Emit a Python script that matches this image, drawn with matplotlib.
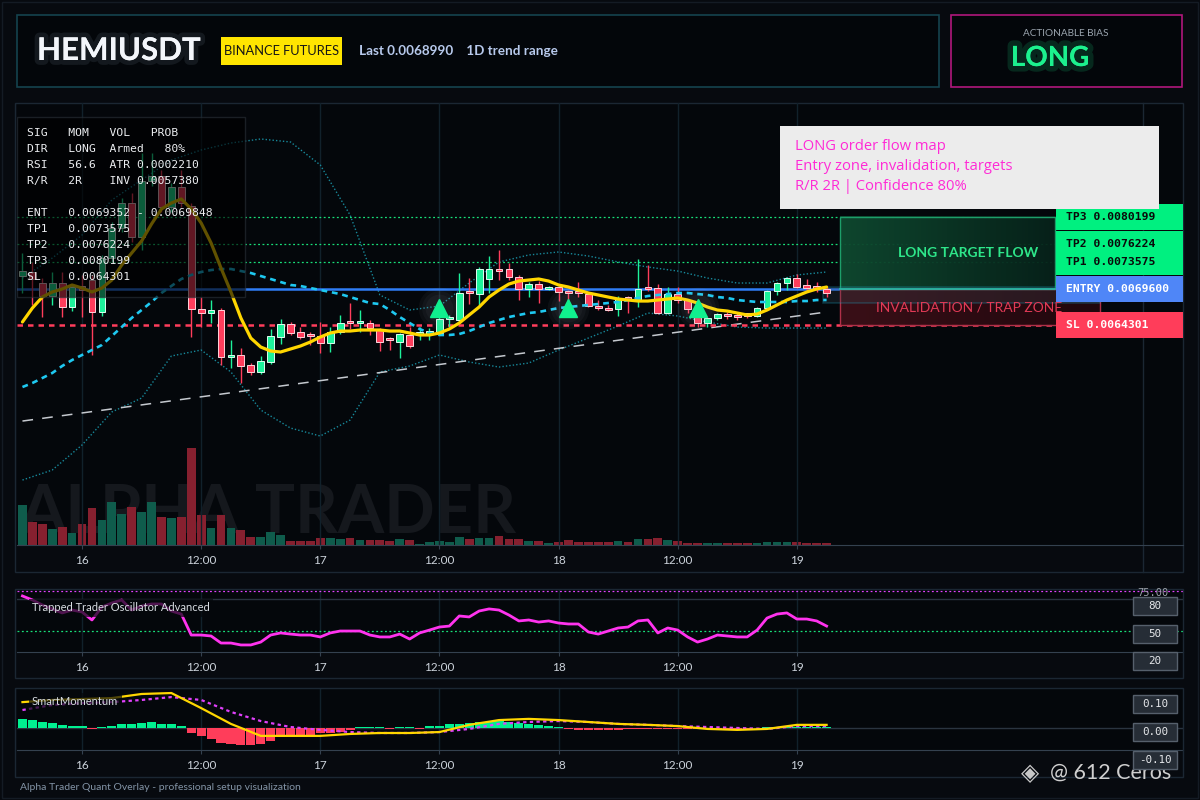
import numpy as np
import matplotlib
matplotlib.use("Agg")
import matplotlib.pyplot as plt
import matplotlib.patheffects as pe
from matplotlib.patches import Rectangle
from matplotlib.colors import LinearSegmentedColormap

plt.rcParams["font.family"] = ["Lato", "DejaVu Sans"]

W, H = 1200, 800

# ---------------- data ----------------
tick_pos = [6, 18, 30, 42, 54, 66, 78]
tick_labels = ["16", "12:00", "17", "12:00", "18", "12:00", "19"]

opens = [0.007151, 0.007210, 0.007048, 0.006857, 0.007048, 0.006695, 0.007004, 0.007092, 0.006622, 0.007415,
         0.007856, 0.008224, 0.007724, 0.008547, 0.008621, 0.008165, 0.008459, 0.008180, 0.006666, 0.006607,
         0.006651, 0.005960, 0.005990, 0.005842, 0.005740, 0.005887, 0.006254, 0.006445, 0.006328, 0.006269,
         0.006269, 0.006166, 0.006328, 0.006475, 0.006455, 0.006460, 0.006357, 0.006210, 0.006181, 0.006284,
         0.006284, 0.006298, 0.006313, 0.006519, 0.006504, 0.006901, 0.006886, 0.007107, 0.007254, 0.007254,
         0.007136, 0.006960, 0.007033, 0.006960, 0.006989, 0.006930, 0.006901, 0.006886, 0.006710, 0.006680,
         0.006666, 0.006813, 0.006798, 0.006974, 0.006974, 0.006607, 0.006886, 0.006798, 0.006563, 0.006460,
         0.006534, 0.006592, 0.006578, 0.006578, 0.006563, 0.006680, 0.006930, 0.007048, 0.007121, 0.006989,
         0.006989, 0.006960]
highs = [0.007489, 0.007357, 0.007121, 0.007210, 0.007210, 0.007019, 0.007166, 0.007166, 0.007460, 0.007945,
         0.008297, 0.008371, 0.008959, 0.008959, 0.008709, 0.008518, 0.008709, 0.008224, 0.006842, 0.006798,
         0.006680, 0.006210, 0.006092, 0.005872, 0.005975, 0.006372, 0.006519, 0.006475, 0.006401, 0.006328,
         0.006475, 0.006401, 0.006578, 0.006754, 0.006651, 0.006504, 0.006386, 0.006254, 0.006313, 0.006401,
         0.006401, 0.006386, 0.006578, 0.006578, 0.007195, 0.007121, 0.007283, 0.007445, 0.007533, 0.007342,
         0.007166, 0.007063, 0.007077, 0.007004, 0.007004, 0.006945, 0.007063, 0.006901, 0.006798, 0.006725,
         0.006857, 0.006857, 0.007401, 0.007313, 0.007033, 0.006989, 0.006989, 0.006813, 0.006592, 0.006548,
         0.006607, 0.006622, 0.006622, 0.006607, 0.006695, 0.006945, 0.007063, 0.007136, 0.007180, 0.007107,
         0.007063, 0.006989]
lows = [0.006901, 0.006725, 0.006548, 0.006725, 0.006548, 0.006636, 0.006548, 0.005990, 0.006563, 0.007357,
        0.007798, 0.007651, 0.007533, 0.008474, 0.008092, 0.008092, 0.008165, 0.006254, 0.006401, 0.006460,
        0.005842, 0.005798, 0.005578, 0.005696, 0.005710, 0.005857, 0.006151, 0.006284, 0.006225, 0.006137,
        0.006019, 0.006034, 0.006298, 0.006372, 0.006328, 0.006284, 0.006048, 0.006063, 0.005945, 0.006092,
        0.006210, 0.006210, 0.006298, 0.006401, 0.006460, 0.006739, 0.006725, 0.006901, 0.007092, 0.007092,
        0.006798, 0.006842, 0.006754, 0.006945, 0.006783, 0.006783, 0.006842, 0.006695, 0.006651, 0.006636,
        0.006563, 0.006607, 0.006695, 0.006930, 0.006592, 0.006592, 0.006754, 0.006607, 0.006401, 0.006401,
        0.006504, 0.006519, 0.006504, 0.006534, 0.006548, 0.006666, 0.006872, 0.006945, 0.006974, 0.006930,
        0.006916, 0.006842]
closes = [0.007224, 0.007107, 0.006857, 0.007048, 0.006695, 0.006989, 0.006945, 0.006622, 0.007415, 0.007856,
          0.008224, 0.007724, 0.008547, 0.008621, 0.008165, 0.008459, 0.008224, 0.006666, 0.006607, 0.006651,
          0.005960, 0.005990, 0.005828, 0.005740, 0.005901, 0.006269, 0.006445, 0.006313, 0.006254, 0.006262,
          0.006166, 0.006328, 0.006460, 0.006453, 0.006458, 0.006386, 0.006181, 0.006203, 0.006298, 0.006122,
          0.006328, 0.006342, 0.006519, 0.006526, 0.006901, 0.006896, 0.007254, 0.007254, 0.007224, 0.007136,
          0.006960, 0.007033, 0.006960, 0.006989, 0.006916, 0.006901, 0.006894, 0.006710, 0.006680, 0.006658,
          0.006813, 0.006806, 0.006960, 0.006960, 0.006607, 0.006886, 0.006798, 0.006666, 0.006460, 0.006534,
          0.006592, 0.006563, 0.006548, 0.006570, 0.006680, 0.006930, 0.007048, 0.007121, 0.006989, 0.006982,
          0.006974, 0.006899]
volume = [40, 23, 21, 16, 18, 12, 21, 37, 25, 43,
          31, 38, 33, 43, 28, 27, 28, 97, 30, 17,
          30, 17, 15, 8, 8, 13, 10, 4, 4, 4,
          7, 7, 6, 7, 5, 5, 5, 4, 6, 5,
          1.5, 3, 4, 3, 8, 6, 7, 7, 9, 6,
          6, 4, 4, 2, 3, 5, 3, 3, 3, 3,
          4, 3, 6, 6, 7, 5, 4, 2, 2, 2,
          2, 2, 2, 2, 2, 3, 3, 3, 3, 2,
          2, 2]

ma_fast = [0.006475, 0.006680, 0.006842, 0.006916, 0.006960, 0.007019, 0.006974, 0.006916, 0.006974, 0.007092,
           0.007313, 0.007489, 0.007665, 0.007915, 0.008136, 0.008224, 0.008283, 0.008136, 0.007930, 0.007636,
           0.007268, 0.006916, 0.006534, 0.006239, 0.006107, 0.006048, 0.006034, 0.006078, 0.006122, 0.006181,
           0.006254, 0.006313, 0.006342, 0.006342, 0.006357, 0.006357, 0.006357, 0.006342, 0.006342, 0.006313,
           0.006284, 0.006284, 0.006313, 0.006372, 0.006460, 0.006578, 0.006695, 0.006842, 0.006945, 0.007033,
           0.007077, 0.007092, 0.007107, 0.007077, 0.007019, 0.006989, 0.006945, 0.006901, 0.006872, 0.006842,
           0.006813, 0.006798, 0.006783, 0.006783, 0.006798, 0.006813, 0.006828, 0.006798, 0.006754, 0.006695,
           0.006651, 0.006636, 0.006607, 0.006578, 0.006592, 0.006651, 0.006725, 0.006798, 0.006857, 0.006916,
           0.006960, 0.006989]
ma_slow = [0.005519, 0.005578, 0.005651, 0.005725, 0.005828, 0.005916, 0.005990, 0.006063, 0.006137, 0.006269,
           0.006401, 0.006534, 0.006651, 0.006769, 0.006901, 0.007004, 0.007107, 0.007166, 0.007210, 0.007239,
           0.007254, 0.007254, 0.007224, 0.007195, 0.007151, 0.007107, 0.007063, 0.007019, 0.007004, 0.006974,
           0.006945, 0.006916, 0.006886, 0.006842, 0.006798, 0.006754, 0.006739, 0.006651, 0.006548, 0.006460,
           0.006372, 0.006313, 0.006284, 0.006284, 0.006298, 0.006342, 0.006401, 0.006460, 0.006504, 0.006548,
           0.006578, 0.006607, 0.006622, 0.006651, 0.006680, 0.006695, 0.006710, 0.006725, 0.006739, 0.006754,
           0.006769, 0.006798, 0.006828, 0.006857, 0.006872, 0.006886, 0.006901, 0.006901, 0.006886, 0.006872,
           0.006842, 0.006828, 0.006798, 0.006783, 0.006769, 0.006769, 0.006769, 0.006769, 0.006783, 0.006783,
           0.006798, 0.006798]

# bands / momentum sampled every 3 bars
step_idx = list(range(0, 82, 3))
bb_upper = [0.007121, 0.007415, 0.007753, 0.008268, 0.008562, 0.008856, 0.009003, 0.009106, 0.009165, 0.009121,
            0.008783, 0.008048, 0.006872, 0.006651, 0.006710, 0.007048, 0.007357, 0.007460, 0.007504, 0.007445,
            0.007357, 0.007283, 0.007224, 0.007121, 0.007048, 0.007048, 0.007166, 0.007210]
bb_lower = [0.004152, 0.004299, 0.004667, 0.005152, 0.005357, 0.005975, 0.006063, 0.005740, 0.005181, 0.004916,
            0.004799, 0.005034, 0.005740, 0.005828, 0.005990, 0.005887, 0.005813, 0.005872, 0.006063, 0.006239,
            0.006416, 0.006607, 0.006563, 0.006475, 0.006401, 0.006386, 0.006386, 0.006386]

trend_idx = [0, 81]
trend_val = [0.005019, 0.006622]

signal_idx = [42, 55, 68]
signal_val = [0.006680, 0.006680, 0.006680]

entry, stop = 0.0069600, 0.0064301
tp1, tp2, tp3 = 0.0073575, 0.0076224, 0.0080199
zone_low = 0.006754

osc = [71.9, 69.4, 66.3, 63.8, 61.3, 63.1, 61.9, 56.9, 65.0, 67.5,
       69.4, 63.1, 65.6, 66.9, 66.9, 62.5, 60.6, 47.5, 47.5, 46.9,
       42.5, 42.5, 41.3, 41.3, 43.1, 47.5, 48.8, 48.1, 47.5, 47.5,
       46.3, 48.8, 50.0, 50.0, 50.0, 47.5, 46.3, 46.3, 48.1, 45.0,
       48.8, 50.6, 52.5, 53.1, 59.4, 58.8, 62.5, 63.8, 63.1, 60.0,
       56.3, 56.9, 55.6, 56.3, 55.0, 54.4, 54.4, 49.4, 48.1, 50.0,
       51.9, 52.5, 56.3, 56.9, 48.8, 51.9, 50.6, 46.3, 43.1, 45.0,
       47.5, 46.9, 46.3, 46.3, 50.6, 58.1, 60.6, 61.3, 57.5, 57.5,
       56.3, 53.1]

mom_hist = [0.038, 0.033, 0.025, 0.021, 0.013, 0.008, 0.008, -0.004, 0.006, 0.010,
            0.017, 0.017, 0.021, 0.025, 0.017, 0.017, 0.010, -0.021, -0.035, -0.046,
            -0.063, -0.067, -0.071, -0.071, -0.067, -0.053, -0.038, -0.029, -0.028, -0.028,
            -0.021, -0.021, -0.015, -0.007, 0.004, 0.004, 0.004, -0.004, 0.004, 0.004,
            -0.003, 0.008, 0.010, 0.015, 0.017, 0.020, 0.024, 0.026, 0.028, 0.024,
            0.021, 0.017, 0.013, 0.008, 0.004, -0.004, -0.007, -0.010, -0.008, -0.008,
            -0.008, -0.006, -0.006, -0.006, -0.006, -0.006, -0.006, -0.006, -0.005, -0.005,
            -0.004, -0.004, -0.004, -0.003, -0.002, 0.002, 0.004, 0.005, 0.006, 0.006,
            0.006, 0.006]
mom_line = [0.108, 0.117, 0.121, 0.125, 0.142, 0.146, 0.083, 0.017, -0.033, -0.033,
            -0.033, -0.025, -0.021, -0.021, -0.017, 0.013, 0.033, 0.038, 0.033, 0.025,
            0.017, 0.013, 0.008, -0.004, -0.008, -0.004, 0.013, 0.013]
mom_signal = [0.075, 0.096, 0.104, 0.108, 0.117, 0.129, 0.117, 0.067, 0.029, 0.004,
              -0.008, -0.017, -0.021, -0.021, -0.017, -0.004, 0.017, 0.025, 0.029, 0.025,
              0.017, 0.013, 0.008, 0.004, 0.000, -0.004, 0.008, 0.008]

info_lines = ["SIG   MOM   VOL   PROB",
              "DIR   LONG  Armed   80%",
              "RSI   56.6  ATR 0.0002210",
              "R/R   2R    INV 0.0057380",
              "",
              "ENT   0.0069352 - 0.0069848",
              "TP1   0.0073575",
              "TP2   0.0076224",
              "TP3   0.0080199",
              "SL    0.0064301"]

# ---------------- style ----------------
BG = "#070a0f"
PANEL = "#04070b"
GREEN = "#1df29b"
RED = "#ff3d5c"
FRAME = "#1b2733"
MONO = "DejaVu Sans Mono"

fig = plt.figure(figsize=(12, 8), dpi=100, facecolor=BG)


def fig_box(x0, y0, x1, y1, **kw):
    r = Rectangle((x0 / W, 1 - y1 / H), (x1 - x0) / W, (y1 - y0) / H,
                  transform=fig.transFigure, **kw)
    fig.add_artist(r)
    return r


def fig_txt(x, y, s, **kw):
    return fig.text(x / W, 1 - y / H, s, **kw)


def make_ax(top, bottom):
    a = fig.add_axes([17 / W, 1 - bottom / H, 1166 / W, (bottom - top) / H])
    a.set_facecolor(PANEL)
    a.set_xlim(-0.55, 116.9)
    for s in ("top", "right", "left"):
        a.spines[s].set_visible(False)
    a.spines["bottom"].set_color("#34414f")
    a.set_yticks([])
    a.set_xticks(tick_pos)
    a.set_xticklabels(tick_labels)
    a.tick_params(axis="x", colors="#34414f", labelcolor="#ccd3db",
                  labelsize=8.5, length=3, pad=4)
    a.grid(axis="x", color="#11212b", lw=1)
    a.set_axisbelow(True)
    return a


# ---------------- header ----------------
fig_box(2, 2, 1198, 798, fill=False, ec="#141b24", lw=1)
fig_box(17, 15, 939, 87, fc="#03060a", ec="#15434e", lw=1.2)
fig_txt(37, 51, "HEMIUSDT", color="#f3f6fb", fontsize=22.5, fontweight="bold",
        va="center", ha="left",
        path_effects=[pe.withStroke(linewidth=7, foreground="#8aa0b0", alpha=0.12), pe.Normal()])
fig_box(221, 37, 342, 65, fc="#ffe500", ec="none")
fig_txt(281.5, 51, "BINANCE FUTURES", color="#161616", fontsize=9.3, ha="center", va="center")
fig_txt(359, 51, "Last 0.0068990    1D trend range", color="#b7c9ec", fontsize=9.7,
        fontweight="bold", ha="left", va="center")

fig_box(951, 15, 1182, 87, fc="#03060a", ec="#b0177c", lw=1.2)
fig_txt(1066, 34, "ACTIONABLE BIAS", color="#9aa4ae", fontsize=7.2, ha="center", va="center")
fig_txt(1050, 58, "LONG", color="#1cf08e", fontsize=20, fontweight="bold", ha="center", va="center",
        path_effects=[pe.withStroke(linewidth=8, foreground="#1cf08e", alpha=0.15), pe.Normal()])

# ---------------- main price panel ----------------
ax = make_ax(103, 545)
ax.set_ylim(0.003197, 0.009694)
idx = np.arange(len(closes))

# volume + watermark on a twin axis behind the candles
vax = ax.twinx()
vax.set_ylim(0, 442)
vax.axis("off")
vax.text(0.215, 0.07, "ALPHA TRADER", transform=ax.transAxes, fontsize=48, fontweight="bold",
         color="#15181d", ha="center", va="center", zorder=0, clip_on=True)
vol_cols = ["#0f5c4c" if c >= o else "#86202f" for o, c in zip(opens, closes)]
vax.bar(idx, volume, width=0.88, color=vol_cols, zorder=1)
ax.set_zorder(vax.get_zorder() + 1)
ax.patch.set_visible(False)
fig_box(17, 103, 1183, 545, fc=PANEL, ec="none", zorder=-5)

ax.plot(step_idx, bb_upper, color="#17889a", lw=1.0, ls=(0, (1, 1.5)), zorder=2)
ax.plot(step_idx, bb_lower, color="#17889a", lw=1.0, ls=(0, (1, 1.5)), zorder=2)
ax.plot(trend_idx, trend_val, color="#c5c9cf", lw=1.1, ls=(0, (7, 6)), zorder=2)

ax.axhline(tp3, color="#18e07a", lw=0.9, ls=(0, (1.5, 2)), zorder=2)
ax.axhline(tp2, color="#18e07a", lw=0.9, ls=(0, (1.5, 2)), zorder=2)
ax.axhline(tp1, color="#18e07a", lw=0.9, ls=(0, (1.5, 2)), zorder=2)
ax.axhline(entry, color="#2f7df6", lw=1.8, zorder=2)
ax.axhline(stop, color="#ff3d5c", lw=1.8, ls=(0, (2.2, 2)), zorder=2)

# candles
cols = [GREEN if c >= o else RED for o, c in zip(opens, closes)]
edges = ["#dffff0" if c >= o else "#ffd3dc" for o, c in zip(opens, closes)]
ax.vlines(idx, lows, highs, colors=cols, lw=1.0, zorder=3)
bottoms = np.minimum(opens, closes)
heights = np.maximum(np.abs(np.array(closes) - np.array(opens)), 0.00003)
ax.bar(idx, heights, bottom=bottoms, width=0.68, color=cols, edgecolor=edges, linewidth=0.7, zorder=4)

ax.plot(idx, ma_slow, color="#1ec8f0", lw=1.9, ls=(0, (2.2, 1.8)), zorder=5)
ax.plot(idx, ma_fast, color="#ffd600", lw=2.3, zorder=6, solid_capstyle="round")

for k in range(3):
    ax.plot(signal_idx, signal_val, ls="none", marker="o", ms=20 + 5 * k, color="#c0c8d0",
            alpha=0.045, mec="none", zorder=6)
ax.plot(signal_idx, signal_val, ls="none", marker="^", ms=13, color="#10f08e", zorder=7)

# target / trap zones
grn = LinearSegmentedColormap.from_list("g", ["#0f4a30", "#07221a"])
rd = LinearSegmentedColormap.from_list("r", ["#3d1018", "#22080e"])
grad = np.linspace(0, 1, 256).reshape(1, -1)
ax.imshow(grad, extent=[82.4, 104.0, entry, tp3], aspect="auto", cmap=grn, zorder=2.5, alpha=0.95)
ax.imshow(grad, extent=[82.4, 108.5, stop, entry], aspect="auto", cmap=rd, zorder=2.5, alpha=0.95)
ax.add_patch(Rectangle((82.4, entry), 104.0 - 82.4, tp3 - entry, fill=False, ec="#1d9e6a", lw=1, zorder=2.6))
ax.add_patch(Rectangle((82.4, stop), 108.5 - 82.4, entry - stop, fill=False, ec="#b03048", lw=1, zorder=2.6))
ax.add_patch(Rectangle((80.6, zone_low), 108.5 - 80.6, 0.0069848 - zone_low, fc="#3a4a55", alpha=0.25,
                       ec="#19b8d8", lw=1.1, zorder=2.7))
ax.plot([82.4, 104.0], [entry, entry], color="#22c4b0", lw=1.2, zorder=2.8)
ax.text(95.3, 0.007489, "LONG TARGET FLOW", color="#2ee68a", fontsize=10, fontweight="bold",
        ha="center", va="center", zorder=8)
ax.text(95.3, 0.0066855, "INVALIDATION / TRAP ZONE", color="#e23a56", fontsize=10, ha="center",
        va="center", zorder=8)
ax.set_xlim(-0.55, 116.9)
ax.set_ylim(0.003197, 0.009694)

# right price labels
half = 0.000191
labels = [(tp3, "TP3 0.0080199", "#00f080", "#0a0a0a"),
          (tp2, "TP2 0.0076224", "#00f080", "#0a0a0a"),
          (tp1, "TP1 0.0073575", "#00f080", "#0a0a0a"),
          (entry, "ENTRY 0.0069600", "#4f86f7", "#ffffff"),
          (stop, "SL 0.0064301", "#ff3d5a", "#ffffff")]
for val, txt, fc, tc in labels:
    ax.add_patch(Rectangle((104.1, val - half), 116.9 - 104.1, 2 * half, fc=fc, ec="none",
                           zorder=12, clip_on=False))
for val, txt, fc, tc in labels:
    ax.text(105.1, val, txt, color=tc, fontsize=8.2, family=MONO, fontweight="bold",
            va="center", ha="left", zorder=13)

# info panel
ax.add_patch(Rectangle((0, (545 - 297) / 442), 228 / 1166, 180 / 442, transform=ax.transAxes,
                       fc="#000000", alpha=0.62, ec="#2a3038", lw=1, zorder=10))
for k, line in enumerate(info_lines):
    ax.text(10 / 1166, (545 - 133 - 16 * k) / 442, line, transform=ax.transAxes, color="#eceef1",
            fontsize=8.2, family=MONO, va="center", ha="left", zorder=11)

# flow map note
fig_box(780, 126, 1159, 209, fc="#ececec", ec="none", zorder=20)
for k, line in enumerate(["LONG order flow map", "Entry zone, invalidation, targets",
                          "R/R 2R | Confidence 80%"]):
    fig_txt(795, 147 + 20 * k, line, color="#ff2ad6", fontsize=10.6, family="Open Sans",
            va="center", ha="left", zorder=21)

fig_box(15, 103, 1183, 572, fill=False, ec=FRAME, lw=1)
fig.add_artist(plt.Line2D([1143 / W, 1143 / W], [1 - 572 / H, 1 - 103 / H],
                          transform=fig.transFigure, color=FRAME, lw=1, zorder=0.5))

# ---------------- oscillator panel ----------------
oax = make_ax(589, 652)
oax.set_ylim(36.9, 76.25)
oax.axhline(75, color="#e040fb", lw=0.9, ls=(0, (1.5, 2)))
oax.axhline(70, color="#2a3440", lw=1)
oax.axhline(50, color="#18e07a", lw=0.9, ls=(0, (1.5, 2)))
oax.plot(idx, osc, color="#ff33ee", lw=2.0, zorder=3)
oax.text(15 / 1166, 0.7, "Trapped Trader Oscillator Advanced", transform=oax.transAxes,
         color="#d8dde2", fontsize=8, va="center", ha="left", zorder=4,
         bbox=dict(boxstyle="square,pad=0.3", fc="#05080c", ec="none", alpha=0.7))
fig_box(15, 589, 1183, 678, fill=False, ec=FRAME, lw=1)

# ---------------- momentum panel ----------------
max_ = make_ax(688, 750)
max_.set_ylim(-0.092, 0.167)
max_.axhline(0, color="#2a3440", lw=1)
hist_cols = ["#00f090" if v >= 0 else "#ff3d5a" for v in mom_hist]
max_.bar(idx, mom_hist, width=0.92, color=hist_cols, zorder=2)
max_.plot(step_idx, mom_signal, color="#e040fb", lw=1.6, ls=(0, (1.5, 1.5)), zorder=3)
max_.plot(step_idx, mom_line, color="#ffd600", lw=1.6, zorder=4)
max_.text(15 / 1166, 0.78, "SmartMomentum", transform=max_.transAxes,
          color="#d8dde2", fontsize=8, va="center", ha="left", zorder=5,
          bbox=dict(boxstyle="square,pad=0.3", fc="#05080c", ec="none", alpha=0.7))
fig_box(15, 688, 1183, 777, fill=False, ec=FRAME, lw=1)

# right-side value boxes
fig_txt(1153, 593, "75.00", color="#9aa0a8", fontsize=7.5, family=MONO, ha="center", va="center")
for y, s in [(606, "80"), (634, "50"), (661, "20"), (704, "0.10"), (732, "0.00"), (760, "-0.10")]:
    fig_box(1133, y - 9, 1177, y + 9, fc="#262d36", ec="#56606c", lw=1, zorder=20)
    fig_txt(1155, y, s, color="#e6e8eb", fontsize=7.8, family=MONO, ha="center", va="center", zorder=21)

# footer
fig_txt(20, 787, "Alpha Trader Quant Overlay - professional setup visualization", color="#8394a6",
        fontsize=7.5, ha="left", va="center")
fig_txt(1030, 773, "\u25c8", color="#c8c8c8", fontsize=17, ha="center", va="center", family="DejaVu Sans")
fig_txt(1050, 773, "@ 612 Ceros", color="#cfcfcf", fontsize=15.5, ha="left", va="center")

fig.savefig("out.png", dpi=100, facecolor=BG)
